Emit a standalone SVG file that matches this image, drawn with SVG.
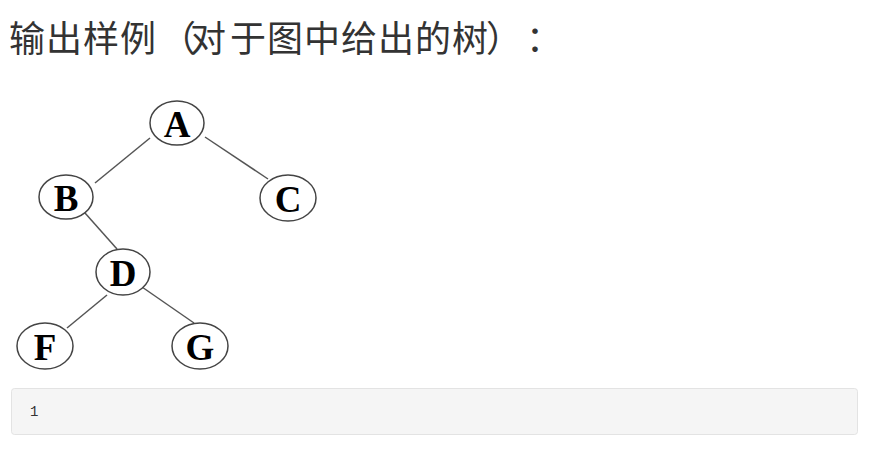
<svg xmlns="http://www.w3.org/2000/svg" width="891" height="468" viewBox="0 0 891 468">
<style>
.title{font-family:"Noto Sans CJK SC","Noto Sans",sans-serif;font-size:36px;fill:#333;text-spacing-trim:space-all}
.node ellipse{fill:#fff;stroke:#444;stroke-width:1.5}
.node text{font-family:"Liberation Serif","Times New Roman",serif;font-weight:bold;font-size:37px;fill:#000;text-anchor:middle}
.edges line{stroke:#555;stroke-width:1.5}
.code{font-family:"Liberation Mono",monospace;font-size:14px;fill:#333}
</style>
<rect width="891" height="468" fill="#fff"/>
<text class="title" x="9 46 83 120 160 190 230 267 304 341 378 415 452 486 526" y="52">输出样例（对于图中给出的树）：</text>
<g class="edges">
<line x1="150" y1="138" x2="95" y2="183"/>
<line x1="205" y1="137" x2="268" y2="179"/>
<line x1="85" y1="213" x2="117" y2="249"/>
<line x1="107" y1="295" x2="67" y2="328"/>
<line x1="142" y1="287" x2="194" y2="323"/>
</g>
<g id="A" class="node"><ellipse cx="177" cy="123" rx="27" ry="22"/><text x="177" y="137">A</text></g>
<g id="B" class="node"><ellipse cx="66" cy="197" rx="27" ry="22"/><text x="66" y="211">B</text></g>
<g id="C" class="node"><ellipse cx="288" cy="198" rx="28" ry="23"/><text x="288" y="212">C</text></g>
<g id="D" class="node"><ellipse cx="123" cy="272" rx="27" ry="23"/><text x="123" y="286">D</text></g>
<g id="F" class="node"><ellipse cx="45" cy="346" rx="28" ry="23"/><text x="45" y="360">F</text></g>
<g id="G" class="node"><ellipse cx="200" cy="346" rx="28" ry="23"/><text x="200" y="360">G</text></g>
<rect x="11.5" y="388.5" width="846" height="46" rx="3" fill="#f5f5f5" stroke="#e3e3e3"/>
<text class="code" x="30" y="416">1</text>
</svg>
